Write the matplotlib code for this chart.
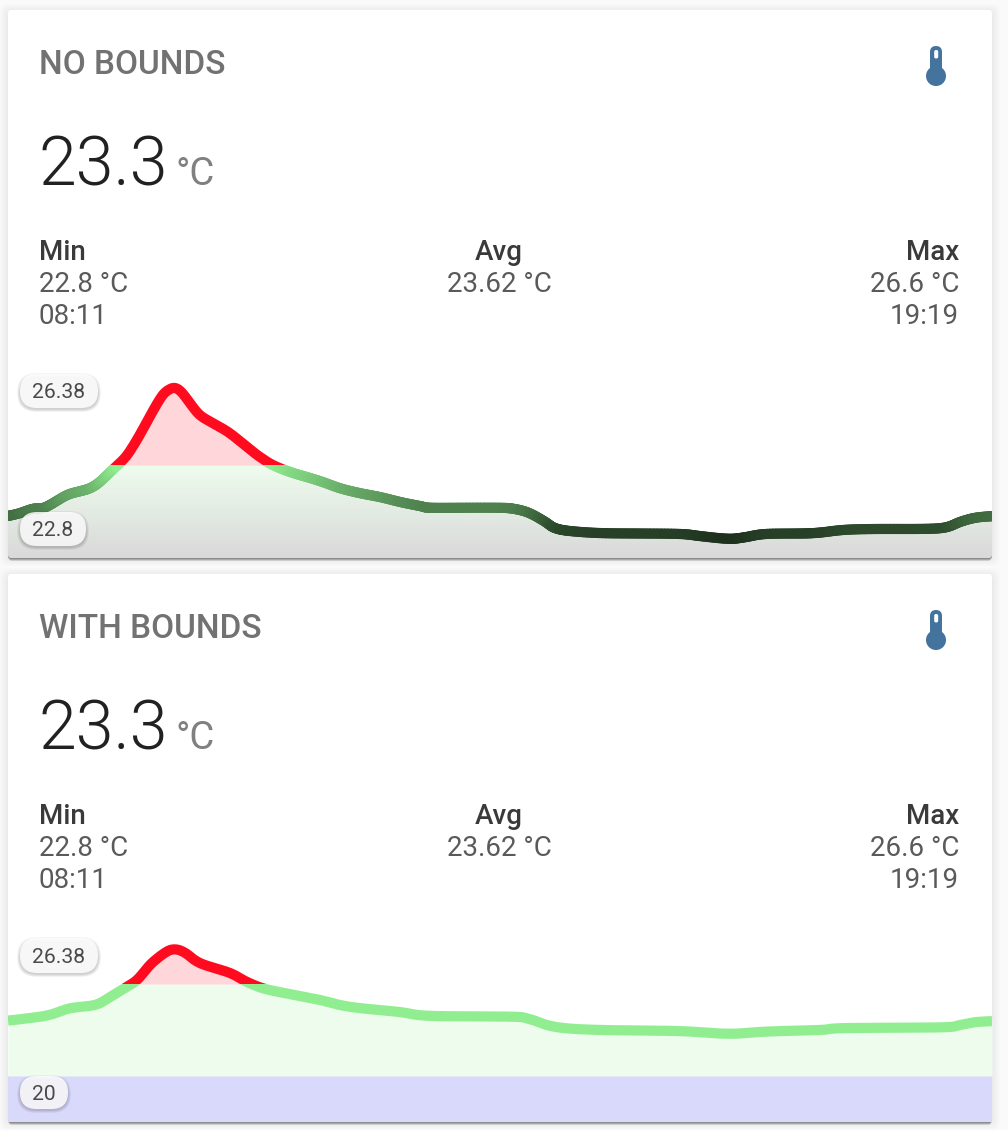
#!/usr/bin/env python3
"""Two temperature cards with a threshold coloured line graph"""
import matplotlib
matplotlib.use("Agg")
import matplotlib.pyplot as plt
import numpy as np
from matplotlib.collections import LineCollection
from matplotlib.colors import LinearSegmentedColormap, Normalize
from matplotlib.patches import Circle, FancyBboxPatch, Polygon, Rectangle

plt.rcParams['font.family'] = ['Roboto', 'DejaVu Sans']

# hours since start of the 24 h window, temperature in C
hours_a = [0, .29, .61, .85, 1.10, 1.44, 1.76, 2.0, 2.24, 2.56, 2.85, 3.10, 3.39, 3.71, 3.90, 4.07,
           4.24, 4.44, 4.68, 5.0, 5.41, 5.83, 6.15, 6.46, 6.88, 7.29, 7.68, 8.10, 8.59, 9.07, 9.56,
           10.05, 10.29, 11.02, 12.0, 12.37, 12.73, 13.1, 13.34, 13.71, 14.44, 15.41, 16.39, 16.88,
           17.56, 17.98, 18.46, 19.32, 19.80, 20.41, 21.27, 22.24, 22.85, 23.22, 23.59, 24]
temps_a = [23.33, 23.40, 23.51, 23.52, 23.64, 23.84, 23.93, 24.0, 24.15, 24.46, 24.73, 25.09, 25.60,
           26.17, 26.36, 26.42, 26.31, 26.05, 25.76, 25.57, 25.33, 24.99, 24.75, 24.56, 24.39, 24.27,
           24.15, 24.0, 23.88, 23.79, 23.67, 23.57, 23.53, 23.53, 23.53, 23.5, 23.4, 23.19, 23.04,
           22.97, 22.92, 22.91, 22.9, 22.85, 22.78, 22.82, 22.9, 22.91, 22.93, 23.0, 23.02, 23.02,
           23.05, 23.19, 23.29, 23.33]
hours_b = [0, .54, 1.02, 1.51, 2.12, 2.49, 2.85, 3.15, 3.46, 3.83, 4.07, 4.32, 4.68, 5.41, 5.83, 6.27,
           6.88, 7.61, 8.10, 8.59, 9.56, 10.29, 12.24, 12.73, 13.34, 14.44, 16.39, 17.56, 18.46, 19.8,
           20.41, 22.73, 23.22, 23.59, 24]
temps_b = [22.8, 22.94, 23.09, 23.44, 23.59, 24.0, 24.46, 24.86, 25.62, 26.26, 26.42, 26.25, 25.72,
           25.22, 24.76, 24.41, 24.15, 23.85, 23.59, 23.44, 23.24, 23.04, 23.01, 22.89, 22.48, 22.33,
           22.28, 22.13, 22.25, 22.33, 22.43, 22.46, 22.58, 22.73, 22.78]
threshold_a = 24.56
threshold_b = 24.66
lower_bound = 20

titles = ["NO BOUNDS", "WITH BOUNDS"]
state = "23.3"
unit = "°C"
stat_heads = ["Min", "Avg", "Max"]
stat_values = ["22.8 °C", "23.62 °C", "26.6 °C"]
stat_times = ["08:11", "", "19:19"]
peak_label = "26.38"
low_labels = ["22.8", "20"]

W, H = 1008, 1130
GREEN = '#90EE90'
RED = '#FF0A1E'
BLUE = '#44739E'


def smooth(x, y, n=12, window=9):
    # catmull-rom through the read points, the card draws a smoothed line too
    p = np.column_stack([x, y])
    p = np.vstack([p[0], p, p[-1]])
    t = np.linspace(0, 1, n, endpoint=False)[:, None]
    out = []
    for i in range(1, len(p) - 2):
        p0, p1, p2, p3 = p[i - 1], p[i], p[i + 1], p[i + 2]
        out.append(.5 * (2 * p1 + (p2 - p0) * t + (2 * p0 - 5 * p1 + 4 * p2 - p3) * t**2
                         + (3 * p1 - p0 - 3 * p2 + p3) * t**3))
    out.append(p[-2][None, :])
    out = np.vstack(out)
    # take the small kinks out of the unevenly read points
    pad = np.pad(out[:, 1], window, mode='edge')
    ys = np.convolve(pad, np.ones(window) / window, mode='same')[window:-window]
    return out[:, 0], ys


def rounded(ax, x0, y0, x1, y1, r, **kw):
    patch = FancyBboxPatch((x0 + r, y0 + r), x1 - x0 - 2 * r, y1 - y0 - 2 * r,
                           boxstyle=f"round,pad={r},rounding_size={r}", linewidth=0, **kw)
    ax.add_patch(patch)
    return patch


def pill(ax, x0, y0, x1, y1, label):
    r = (y1 - y0) / 2
    for i in range(6):
        rounded(ax, x0 - 3 + i * .5, y0 - 1 + i * .8, x1 + 3 - i * .5, y1 + 4 - i * .5, r + 2 - i * .3,
                color='black', alpha=.03)
    rounded(ax, x0, y0, x1, y1, r, color='white', alpha=.84)
    ax.text((x0 + x1) / 2, (y0 + y1) / 2 + 7.5, label, fontsize=15.2, color='#4A4A4A',
            ha='center', va='baseline')


def make_axes(top, bottom, ylim):
    ax = fig.add_axes([8 / W, 1 - bottom / H, 984 / W, (bottom - top) / H], zorder=2)
    ax.set_xlim(0, 24)
    ax.set_ylim(*ylim)
    ax.axis('off')
    return ax


def draw_red(ax, x, y, threshold, ylim):
    clip = Rectangle((0, threshold), 24, ylim[1] - threshold, transform=ax.transData)
    ax.fill_between(x, threshold, y, where=y >= threshold, color='#FF0A1E', alpha=.16, linewidth=0,
                    interpolate=True)
    line, = ax.plot(x, y, color=RED, lw=LW, solid_capstyle='butt', solid_joinstyle='round')
    line.set_clip_path(clip)


def draw_graph_a(ax, ylim):
    x, y = smooth(hours_a, temps_a)
    thr = threshold_a
    cmap = LinearSegmentedColormap.from_list('fade', ['black', GREEN])
    norm = Normalize(ylim[0], thr)

    # area under the line, same colours as the line at 15 %
    grad = np.linspace(thr, ylim[0], 200)[:, None]
    rgba = cmap(norm(grad))
    rgba[..., 3] = .15
    im = ax.imshow(rgba, extent=[0, 24, ylim[0], thr], aspect='auto', interpolation='bilinear')
    under = np.minimum(y, thr)
    poly = Polygon(np.vstack([np.column_stack([x, under]), [24, ylim[0]], [0, ylim[0]]]),
                   transform=ax.transData, facecolor='none', edgecolor='none')
    ax.add_patch(poly)
    im.set_clip_path(poly)
    ax.set_xlim(0, 24)
    ax.set_ylim(*ylim)

    draw_red(ax, x, y, thr, ylim)
    pts = np.column_stack([x, y])
    segs = np.stack([pts[:-1], pts[1:]], axis=1)
    lc = LineCollection(segs, colors=cmap(norm((y[:-1] + y[1:]) / 2)), linewidths=LW, capstyle='round')
    ax.add_collection(lc)
    lc.set_clip_path(Rectangle((0, ylim[0]), 24, thr - ylim[0], transform=ax.transData))


def draw_graph_b(ax, ylim):
    x, y = smooth(hours_b, temps_b)
    thr = threshold_b
    ax.axhspan(ylim[0], lower_bound, color='#D9D9FB', linewidth=0)
    ax.fill_between(x, lower_bound, np.minimum(y, thr), color='#EEFCEE', linewidth=0)
    draw_red(ax, x, y, thr, ylim)
    line, = ax.plot(x, y, color=GREEN, lw=LW, solid_capstyle='butt', solid_joinstyle='round')
    line.set_clip_path(Rectangle((0, ylim[0]), 24, thr - ylim[0], transform=ax.transData))


def draw_card_text(ax, dy, title):
    ax.text(39, 74 + dy, title, fontsize=24, fontweight=500, color='#727272', va='baseline')
    ax.text(38, 185 + dy, state, fontsize=49, fontweight=300, color='#212121', va='baseline')
    ax.text(175, 185 + dy, unit, fontsize=27.5, fontweight='normal', color='#808080', va='baseline')
    for i, (x, ha) in enumerate(zip([39, 499, 959], ['left', 'center', 'right'])):
        ax.text(x, 260 + dy, stat_heads[i], fontsize=20, fontweight=500, color='#3A3A3A', ha=ha, va='baseline')
        ax.text(x, 292 + dy, stat_values[i], fontsize=20, color='#5A5A5A', ha=ha, va='baseline')
        ax.text(x, 324 + dy, stat_times[i], fontsize=20, color='#5A5A5A', ha=ha, va='baseline')
    # thermometer icon
    ax.add_patch(Circle((936, 76 + dy), 10, color=BLUE, linewidth=0))
    rounded(ax, 930, 46 + dy, 942, 76 + dy, 6, color=BLUE)
    rounded(ax, 934.2, 50 + dy, 938.2, 58.5 + dy, 1.8, color='white')


fig = plt.figure(figsize=(W / 100, H / 100), dpi=100, facecolor='#FAFAFA')
LW = 10.2 * 72 / 100

# page layer in pixel coordinates
bg = fig.add_axes([0, 0, 1, 1], zorder=0)
bg.set_xlim(0, W)
bg.set_ylim(H, 0)
bg.axis('off')
for top, bottom in [(10, 558), (574, 1122)]:
    for i in range(8):
        rounded(bg, i, top - 6 + i, 1000 - i, bottom + 8 - i, 8, color='black', alpha=.008)
    rounded(bg, 8.5, top + 2, 991.5, bottom + 2.5, 3, color='#B0B0B0')
    rounded(bg, 8.5, top + 2, 991.5, bottom + 1.2, 3, color='#8C8C8C')
    rounded(bg, 8, top, 992, bottom, 3, color='white')

ylim_a = (22.32, 27.09)
ylim_b = (17.67, 27.70)
draw_graph_a(make_axes(360, 558, ylim_a), ylim_a)
draw_graph_b(make_axes(924, 1122, ylim_b), ylim_b)

# text and pills sit above the graphs
top_layer = fig.add_axes([0, 0, 1, 1], zorder=3)
top_layer.set_xlim(0, W)
top_layer.set_ylim(H, 0)
top_layer.axis('off')
draw_card_text(top_layer, 0, titles[0])
draw_card_text(top_layer, 564, titles[1])
pill(top_layer, 20, 374, 98, 408, peak_label)
pill(top_layer, 20, 512, 86, 546, low_labels[0])
pill(top_layer, 20, 938, 98, 973, peak_label)
pill(top_layer, 20, 1076, 68, 1109, low_labels[1])

plt.savefig("out.png", dpi=100, facecolor=fig.get_facecolor())
plt.close()
